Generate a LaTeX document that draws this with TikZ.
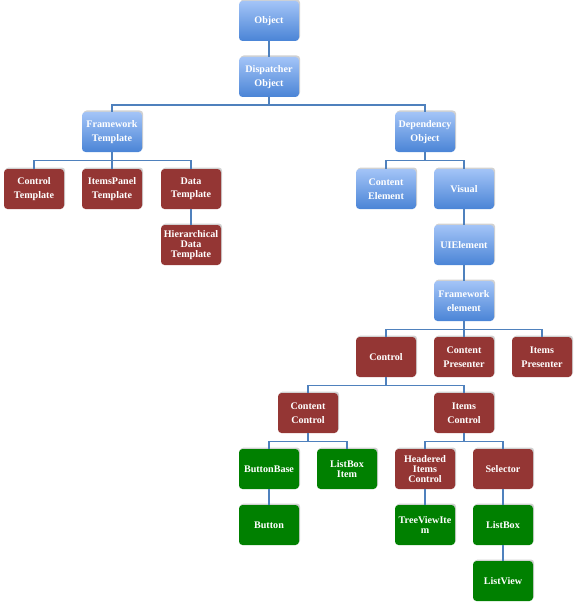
\documentclass[tikz,border=0pt]{standalone}
\usepackage{fontspec}
\setmainfont{Liberation Serif}
\usetikzlibrary{shadows}
\definecolor{btop}{HTML}{A3C4F7}
\definecolor{bbot}{HTML}{4A84D6}
\definecolor{rfill}{HTML}{943634}
\definecolor{gfill}{HTML}{008000}
\definecolor{wire}{HTML}{4F81BD}
\tikzset{
  box/.style={minimum width=60, minimum height=40, text width=60, align=center,
    rounded corners=3.5, inner sep=0, text=white, font=\bfseries\fontsize{10.1}{13.5}\selectfont,
    drop shadow={shadow xshift=1.2, shadow yshift=-1.5, opacity=0.3, fill=black!60}},
  tight/.style={font=\bfseries\fontsize{10.1}{10.3}\selectfont},
  bluebox/.style={box, top color=btop, bottom color=bbot},
  redbox/.style={box, fill=rfill},
  greenbox/.style={box, fill=gfill},
  wirestyle/.style={draw=wire, line width=1.4}
}
\begin{document}
\begin{tikzpicture}[x=1pt,y=-1pt]
\useasboundingbox (0,0) rectangle (577,607);
\node[bluebox] (obj) at (269,21) {Object};
\node[bluebox] (disp) at (269,77) {Dispatcher\\Object};
\node[bluebox] (ft) at (112,132) {Framework\\Template};
\node[bluebox] (dep) at (425,132) {Dependency\\Object};
\node[redbox] (ct) at (34,189) {Control\\Template};
\node[redbox] (ipt) at (112,189) {ItemsPanel\\Template};
\node[redbox] (dt) at (191,189) {Data\\Template};
\node[redbox, tight] (hdt) at (191,245) {Hierarchical\\Data\\Template};
\node[bluebox] (ce) at (386,189) {Content\\Element};
\node[bluebox] (vis) at (464,189) {Visual};
\node[bluebox] (uie) at (464,245) {UIElement};
\node[bluebox] (fe) at (464,301) {Framework\\element};
\node[redbox] (ctl) at (386,357) {Control};
\node[redbox] (cp) at (464,357) {Content\\Presenter};
\node[redbox] (ip) at (542,357) {Items\\Presenter};
\node[redbox] (cc) at (308,413) {Content\\Control};
\node[redbox] (ic) at (464,413) {Items\\Control};
\node[greenbox] (bb) at (269,469) {ButtonBase};
\node[greenbox, tight] (lbi) at (347,469) {ListBox\\Item};
\node[redbox, tight] (hic) at (425,469) {Headered\\Items\\Control};
\node[redbox] (sel) at (503,469) {Selector};
\node[greenbox] (btn) at (269,525) {Button};
\node[greenbox, tight] (tvi) at (425,525) {TreeViewIte\\m};
\node[greenbox] (lb) at (503,525) {ListBox};
\node[greenbox] (lv) at (503,581) {ListView};
\foreach \p/\c in {disp/ft,disp/dep,ft/ct,ft/ipt,ft/dt,dep/ce,dep/vis,fe/ctl,fe/cp,fe/ip,ctl/cc,ctl/ic,cc/bb,cc/lbi,ic/hic,ic/sel}
  \draw[wirestyle] (\p.south) -- ++(0,8) -| (\c.north);
\foreach \p/\c in {obj/disp,dt/hdt,vis/uie,uie/fe,bb/btn,hic/tvi,sel/lb,lb/lv}
  \draw[wirestyle] (\p.south) -- (\c.north);
\end{tikzpicture}
\end{document}
